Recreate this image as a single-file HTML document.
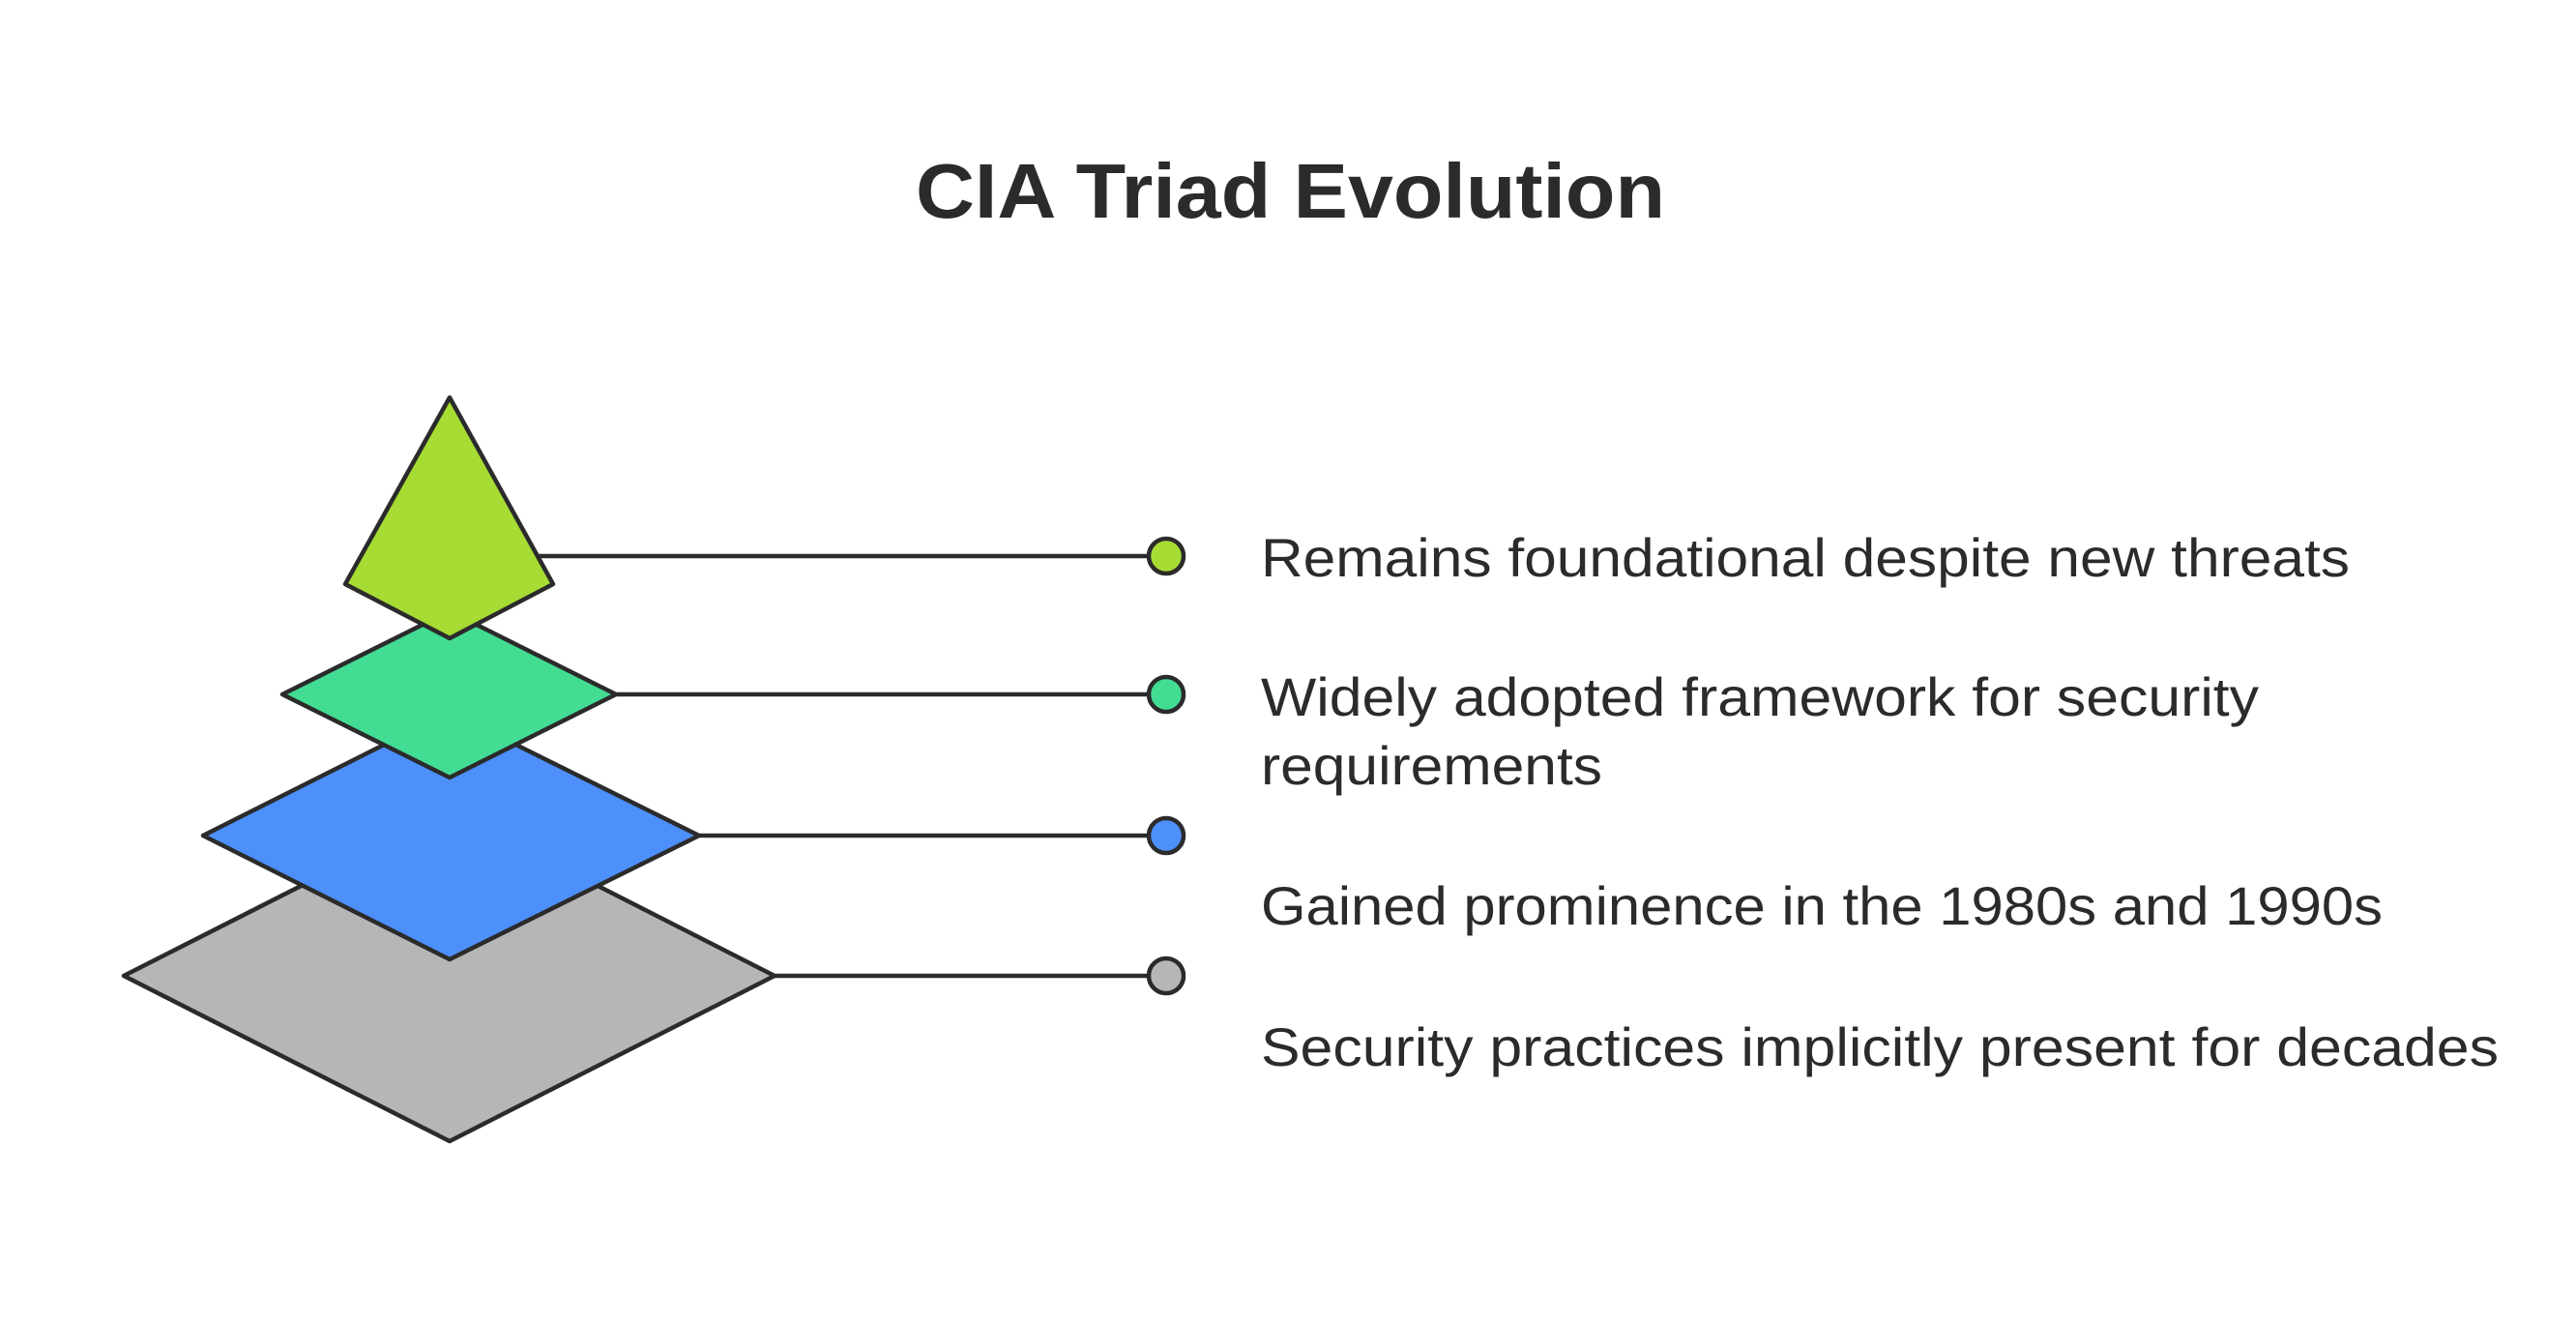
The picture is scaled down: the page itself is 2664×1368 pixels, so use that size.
<!DOCTYPE html>
<html><head><meta charset="utf-8"><style>html,body{margin:0;padding:0;background:#fff}svg{display:block}</style></head>
<body>
<svg width="2664" height="1368" viewBox="0 0 2664 1368" xmlns="http://www.w3.org/2000/svg">
<g stroke="#2b2b2b" stroke-width="4.5" stroke-linejoin="round" transform="translate(-5,-4)">
<line x1="520" y1="579" x2="1195" y2="579"/>
<line x1="642" y1="722" x2="1195" y2="722"/>
<line x1="728" y1="868" x2="1195" y2="868"/>
<line x1="806" y1="1013" x2="1195" y2="1013"/>
<polygon points="470,842 806,1013 470,1184 133,1013" fill="#b6b6b6"/>
<polygon points="470,740 728,868 470,996 215,868" fill="#4d90fc"/>
<polygon points="470,636 642,722 470,808 297,722" fill="#43dc93"/>
<polygon points="470,415 577,608 470,664 362,608" fill="#a6dc34"/>
<circle cx="1211" cy="579" r="18" fill="#a6dc34"/>
<circle cx="1211" cy="722" r="18" fill="#43dc93"/>
<circle cx="1211" cy="868" r="18" fill="#4d90fc"/>
<circle cx="1211" cy="1013" r="18" fill="#b6b6b6"/>
</g>
<g font-family="Liberation Sans, sans-serif" fill="#2b2b2b">
<text x="947" y="225" font-size="80" font-weight="bold" textLength="775" lengthAdjust="spacingAndGlyphs">CIA Triad Evolution</text>
<g font-size="56" transform="translate(-6,-3)">
<text x="1310" y="599" textLength="1126" lengthAdjust="spacingAndGlyphs">Remains foundational despite new threats</text>
<text x="1310" y="743" textLength="1032" lengthAdjust="spacingAndGlyphs">Widely adopted framework for security</text>
<text x="1310" y="814" textLength="353" lengthAdjust="spacingAndGlyphs">requirements</text>
<text x="1310" y="959" textLength="1160" lengthAdjust="spacingAndGlyphs">Gained prominence in the 1980s and 1990s</text>
<text x="1310" y="1105" textLength="1280" lengthAdjust="spacingAndGlyphs">Security practices implicitly present for decades</text>
</g>
</g>
</svg>
</body></html>
